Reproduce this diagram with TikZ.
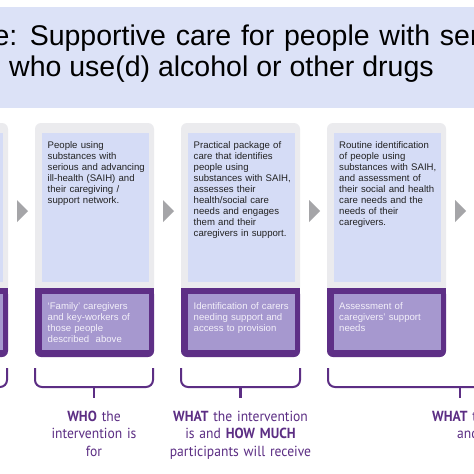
\documentclass[tikz,border=0pt]{standalone}
\usepackage{fontspec}
\setmainfont{Liberation Sans}
\newfontfamily\lblfont[FakeStretch=0.93]{PT Sans}
\definecolor{banner}{HTML}{DCE2F7}
\definecolor{cardgray}{HTML}{EBEBEE}
\definecolor{cardblue}{HTML}{D5DCF6}
\definecolor{darkpurple}{HTML}{5E2F86}
\definecolor{lightpurple}{HTML}{A698CF}
\definecolor{chev}{HTML}{A5A5A8}
\definecolor{lbl}{HTML}{5C2E84}
\definecolor{ptext}{HTML}{F3F0FA}
\definecolor{btext}{HTML}{222222}
\tikzset{
  cardtext/.style={anchor=base west, inner sep=0, text width=115pt, align=left,
    font=\fontsize{9.6}{11}\selectfont, text=btext},
  purpletext/.style={cardtext, text=ptext},
  titletext/.style={anchor=base west, inner sep=0, font=\fontsize{28.5}{30}\selectfont, text=black},
  lbltext/.style={anchor=base, inner sep=0, text width=160pt, align=center,
    font=\lblfont\fontsize{14.6}{17.8}\selectfont, text=lbl},
  bracket/.style={draw=lbl, line width=2pt, rounded corners=7pt},
  chevron/.style={fill=chev},
}
\begin{document}
\begin{tikzpicture}[x=1pt,y=-1pt]
\useasboundingbox (0,0) rectangle (474,474);
\clip (0,0) rectangle (474,474);
\fill[white] (0,0) rectangle (474,474);
% title banner
\fill[banner] (0,7) rectangle (474,108);
\node[titletext] (title1) at (-6.6,45.5) {\spaceskip=9.8pt plus 0pt e: Supportive care for people with serious};
\node[titletext] (title2) at (9,76) {who use(d) alcohol or other drugs};
% cards
\foreach \L/\n in {-111/0,35/1,181/2,327/3}{
  \fill[cardgray, rounded corners=6pt] (\L,123) rectangle ++(119,170);
  \fill[darkpurple, rounded corners=6pt] (\L,288) rectangle ++(119,69);
  \fill[darkpurple] (\L,288) rectangle ++(119,10);
  \fill[cardblue] (\L+7,133) rectangle ++(107,149);
  \fill[lightpurple] (\L+7,294) rectangle ++(107,56);
  \coordinate (card\n) at (\L,123);
}
% chevrons
\foreach \L in {35,181,327,473}{
  \fill[chevron] (\L-18,200) -- (\L-7,211) -- (\L-18,222) -- cycle;
}
% card texts
\node[cardtext] (t1) at (47.5,148.7) {People using\\substances with\\serious and advancing\\ill-health (SAIH) and\\their caregiving /\\support network.};
\node[cardtext] (t2) at (193.5,148.7) {Practical package of\\care that identifies\\people using\\substances with SAIH,\\assesses their\\health/social care\\needs and engages\\them and their\\caregivers in support.};
\node[cardtext] (t3) at (339,148.7) {Routine identification\\of people using\\substances with SAIH,\\and assessment of\\their social and health\\care needs and the\\needs of their\\caregivers.};
\node[purpletext] (p1) at (47.5,309) {‘Family’ caregivers\\and key-workers of\\those people\\described\ \ above};
\node[purpletext] (p2) at (193.5,309) {Identification of carers\\needing support and\\access to provision};
\node[purpletext] (p3) at (339,309) {Assessment of\\caregivers’ support\\needs};
% brackets
\foreach \a/\b in {-112/7,35/153,181/300,328/592}{
  \draw[bracket] (\a,368) -- (\a,387) -- (\b,387) -- (\b,368);
  \draw[draw=lbl, line width=2.4pt] ({(\a+\b)/2},387) -- ({(\a+\b)/2},398);
}
% labels
\node[lbltext] (l1) at (94,421) {\textbf{WHO} the\\intervention is\\for};
\node[lbltext] (l2) at (240.5,421) {\textbf{WHAT} the intervention\\is and \textbf{HOW MUCH}\\participants will receive};
\node[lbltext, anchor=base west, align=left] (l3) at (432,421) {\textbf{WHAT} the\\\hspace*{25pt}and};
\end{tikzpicture}
\end{document}
